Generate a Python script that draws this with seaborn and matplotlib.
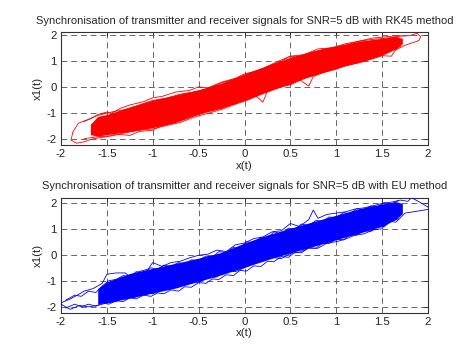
import matplotlib
matplotlib.use("Agg")
import matplotlib.pyplot as plt
import seaborn as sns
import pandas as pd

sns.set_style("white")
plt.rcParams['font.family'] = ['Liberation Sans', 'DejaVu Sans']

# ---------------- data ----------------
titles = ["Synchronisation of transmitter and receiver signals for SNR=5 dB with RK45 method",
          "Synchronisation of transmitter and receiver signals for SNR=5 dB with EU method"]
xticks = [-2, -1.5, -1, -0.5, 0, 0.5, 1, 1.5, 2]
xtick_labels = ["-2", "-1.5", "-1", "-0.5", "0", "0.5", "1", "1.5", "2"]
yticks = [-2, -1, 0, 1, 2]
ytick_labels = ["-2", "-1", "0", "1", "2"]

# dense core of the RK45 band
rk_band_x = [-1.68, -1.6, -1.5, -1.25, -1.0, -0.75, -0.5, -0.25, 0.0, 0.25, 0.5, 0.75, 1.0, 1.25, 1.5, 1.65, 1.72]
rk_lower = [-1.82, -1.88, -1.82, -1.70, -1.55, -1.35, -1.03, -0.80, -0.50, -0.17, 0.15, 0.47, 0.73, 0.98, 1.24, 1.48, 1.68]
rk_upper = [-1.42, -1.12, -1.04, -0.76, -0.49, -0.29, -0.09, 0.17, 0.51, 0.84, 1.16, 1.41, 1.60, 1.78, 1.89, 1.97, 1.88]

# outer RK45 traces
rk_up_x = [-1.67, -1.6, -1.5, -1.45, -1.35, -1.25, -1.1, -1.0, -0.9, -0.75, -0.6, -0.5, -0.4, -0.25, -0.1, 0.0,
           0.1, 0.25, 0.4, 0.5, 0.6, 0.75, 0.9, 1.0, 1.1, 1.25, 1.4, 1.5, 1.6, 1.7, 1.8, 1.88, 1.92, 1.9]
rk_up_y = [-1.19, -1.05, -0.95, -1.0, -0.8, -0.68, -0.55, -0.4, -0.35, -0.18, -0.12, 0.02, -0.02, 0.2, 0.35, 0.52,
           0.6, 0.8, 1.0, 1.2, 1.15, 1.35, 1.5, 1.55, 1.62, 1.78, 1.85, 1.88, 1.92, 1.97, 1.99, 2.08, 1.95, 1.8]
rk_lo_x = [1.9, 1.75, 1.65, 1.6, 1.5, 1.4, 1.25, 1.1, 1.0, 0.85, 0.75, 0.7, 0.6, 0.5, 0.4, 0.3, 0.25, 0.2, 0.1,
           0.0, -0.1, -0.25, -0.4, -0.5, -0.65, -0.75, -0.9, -1.0, -1.15, -1.25, -1.4, -1.5, -1.6, -1.67, -1.75,
           -1.83, -1.89, -1.87, -1.81, -1.67]
rk_lo_y = [1.8, 1.62, 1.45, 1.2, 1.22, 1.1, 0.95, 0.85, 0.7, 0.57, 0.42, 0.05, 0.3, 0.12, 0.05, -0.1, -0.15, -0.57,
           -0.25, -0.45, -0.55, -0.8, -0.9, -1.05, -1.15, -1.35, -1.47, -1.65, -1.7, -1.85, -1.8, -1.9, -1.95, -2.0,
           -2.1, -2.15, -2.03, -1.71, -1.38, -1.19]
rk_mid_x = [-1.75, -1.6, -1.45, -1.3, -1.15, -1.0, -0.85, -0.7, -0.55, -0.4, -0.25, -0.1, 0.05, 0.2, 0.35, 0.5,
            0.65, 0.8, 0.95, 1.1, 1.25, 1.4, 1.55, 1.7]
rk_a_y = [-1.32, -1.08, -0.95, -0.85, -0.68, -0.5, -0.42, -0.26, -0.18, -0.05, 0.18, 0.32, 0.55, 0.72, 0.98, 1.2,
          1.26, 1.48, 1.52, 1.68, 1.78, 1.9, 1.95, 2.0]
rk_b_y = [-1.98, -1.9, -1.87, -1.75, -1.65, -1.6, -1.47, -1.35, -1.15, -1.0, -0.85, -0.65, -0.47, -0.23, -0.03,
          0.1, 0.35, 0.5, 0.67, 0.83, 0.95, 1.15, 1.33, 1.58]

# dense core of the EU band
eu_band_x = [-1.6, -1.5, -1.25, -1.0, -0.75, -0.5, -0.25, 0.0, 0.25, 0.5, 0.75, 1.0, 1.25, 1.5, 1.65, 1.72]
eu_lower = [-1.88, -1.84, -1.67, -1.47, -1.28, -1.02, -0.77, -0.48, -0.19, 0.07, 0.32, 0.58, 0.83, 1.09, 1.36, 1.58]
eu_upper = [-1.30, -1.04, -0.72, -0.52, -0.33, -0.13, 0.09, 0.45, 0.76, 1.02, 1.27, 1.52, 1.77, 1.95, 2.04, 1.97]

# outer EU traces
eu_up_x = [-2.0, -1.9, -1.82, -1.75, -1.65, -1.55, -1.5, -1.4, -1.3, -1.25, -1.15, -1.05, -1.0, -0.9, -0.8, -0.7,
           -0.6, -0.5, -0.4, -0.3, -0.2, -0.1, 0.0, 0.1, 0.2, 0.3, 0.4, 0.5, 0.6, 0.7, 0.75, 0.8, 0.9, 1.0, 1.1, 1.2,
           1.3, 1.4, 1.5, 1.6, 1.7, 1.78, 1.82, 1.92, 2.0]
eu_up_y = [-1.85, -1.7, -1.55, -1.4, -1.3, -1.1, -0.75, -0.7, -0.7, -0.85, -0.65, -0.55, -0.3, -0.45, -0.3, -0.25,
           -0.12, -0.02, 0.02, 0.18, 0.12, 0.38, 0.45, 0.62, 0.68, 0.88, 0.92, 1.2, 1.08, 1.35, 1.72, 1.4, 1.55, 1.6,
           1.65, 1.75, 1.8, 1.88, 1.97, 2.02, 2.1, 2.05, 2.19, 2.0, 1.83]
eu_lo_x = [2.0, 1.75, 1.65, 1.55, 1.5, 1.4, 1.3, 1.2, 1.1, 1.0, 0.9, 0.8, 0.7, 0.6, 0.5, 0.4, 0.3, 0.2, 0.1, 0.0,
           -0.1, -0.2, -0.3, -0.4, -0.5, -0.6, -0.7, -0.8, -0.9, -1.0, -1.1, -1.2, -1.3, -1.4, -1.5, -1.6, -1.7,
           -1.8, -1.9, -2.0]
eu_lo_y = [1.74, 1.6, 1.25, 1.3, 1.0, 0.95, 0.8, 0.75, 0.6, 0.5, 0.45, 0.25, 0.25, 0.1, 0.05, -0.15, -0.1, -0.25,
           -0.35, -0.5, -0.65, -0.6, -0.85, -0.9, -1.05, -1.1, -1.15, -1.3, -1.35, -1.5, -1.45, -1.65, -1.6, -1.8,
           -1.85, -1.95, -2.0, -1.95, -2.1, -1.9]
eu_mid_x = [-1.95, -1.85, -1.78, -1.7, -1.62, -1.55, -1.48, -1.4, -1.32, -1.25, -1.18, -1.1, -1.02, -0.95, -0.88,
            -0.8, -0.72, -0.65, -0.58, -0.5, -0.42, -0.35, -0.28, -0.2, -0.12, -0.05, 0.02, 0.1, 0.18, 0.25, 0.32,
            0.4, 0.48, 0.55, 0.62, 0.7, 0.78, 0.85, 0.92, 1.0, 1.08, 1.15, 1.22, 1.3, 1.38, 1.45, 1.52, 1.6, 1.68]
eu_a_y = [-1.75, -1.55, -1.6, -1.4, -1.45, -1.2, -1.0, -0.95, -0.8, -0.85, -0.65, -0.7, -0.5, -0.57, -0.4,
          -0.45, -0.3, -0.37, -0.2, -0.22, -0.05, -0.1, 0.12, 0.08, 0.28, 0.22, 0.5, 0.46, 0.68, 0.62, 0.88,
          0.8, 1.02, 0.98, 1.18, 1.12, 1.32, 1.28, 1.45, 1.42, 1.62, 1.57, 1.77, 1.72, 1.88, 1.84, 2.0, 1.95, 2.08]
eu_b_y = [-2.05, -1.9, -2.0, -1.9, -1.98, -1.85, -1.9, -1.77, -1.8, -1.65, -1.7, -1.55, -1.6, -1.47, -1.5,
          -1.35, -1.4, -1.23, -1.25, -1.07, -1.1, -0.93, -0.95, -0.77, -0.8, -0.6, -0.63, -0.43, -0.45, -0.25, -0.27,
          -0.07, -0.1, 0.1, 0.07, 0.27, 0.25, 0.45, 0.43, 0.6, 0.57, 0.77, 0.75, 0.93, 0.9, 1.1, 1.07, 1.3, 1.38]

ylims = [(-2.22, 2.12), (-2.23, 2.19)]

# ---------------- drawing ----------------
fig = plt.figure(figsize=(4.74, 3.55), dpi=100)
ax1 = fig.add_axes([0.1287, 0.5915, 0.7743, 0.3175])
ax2 = fig.add_axes([0.1287, 0.119, 0.7743, 0.324])

panels = [
    (ax1, "#ff0000", rk_band_x, rk_lower, rk_upper,
     [(rk_up_x, rk_up_y), (rk_lo_x, rk_lo_y), (rk_mid_x, rk_a_y), (rk_mid_x, rk_b_y)]),
    (ax2, "#0000ff", eu_band_x, eu_lower, eu_upper,
     [(eu_up_x, eu_up_y), (eu_lo_x, eu_lo_y), (eu_mid_x, eu_a_y), (eu_mid_x, eu_b_y)]),
]

for i, (ax, col, bx, lo, up, traces) in enumerate(panels):
    ax.set_axisbelow(True)
    ax.fill_between(bx, lo, up, color=col, lw=0, zorder=2)
    for tx, ty in traces:
        df = pd.DataFrame({"x": tx, "y": ty})
        sns.lineplot(data=df, x="x", y="y", sort=False, estimator=None, ax=ax,
                     color=col, lw=0.6, zorder=3)
    ax.set_xlim(-2, 2)
    ax.set_ylim(*ylims[i])
    ax.set_xticks(xticks)
    ax.set_xticklabels(xtick_labels)
    ax.set_yticks(yticks)
    ax.set_yticklabels(ytick_labels)
    ax.grid(True, linestyle=(0, (6, 4)), color="#666666", lw=0.7)
    ax.tick_params(direction="in", length=3, width=0.6, top=True, right=True,
                   labelsize=8.2, pad=3, colors="#222222")
    for s in ax.spines.values():
        s.set_visible(True)
        s.set_color("#333333")
        s.set_linewidth(0.8)
    ax.set_xlabel("x(t)", fontsize=8.2, labelpad=1)
    ax.set_ylabel("x1(t)", fontsize=8.2, labelpad=3)
    ax.set_title(titles[i], fontsize=8.0, pad=6)

fig.savefig("out.png", dpi=100, facecolor="white")
